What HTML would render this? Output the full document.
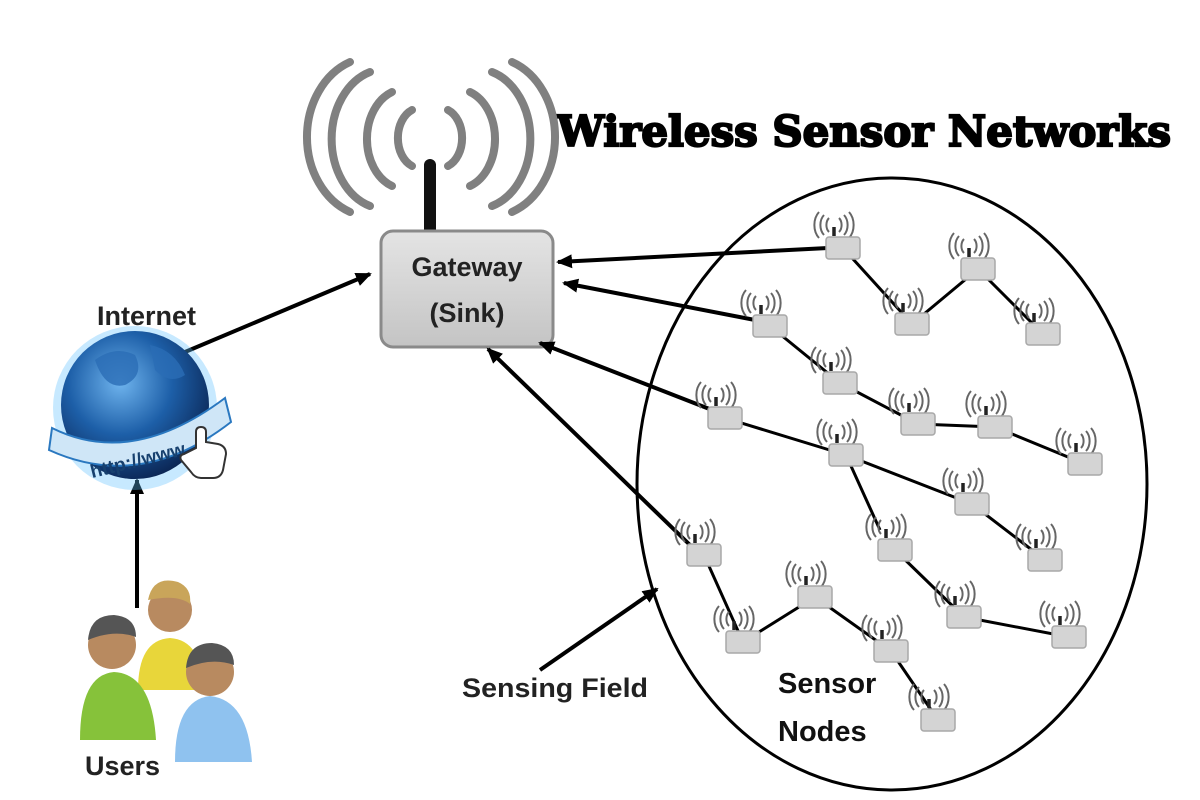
<!DOCTYPE html>
<html><head><meta charset="utf-8"><style>
html,body{margin:0;padding:0;background:#fff;width:1200px;height:800px;overflow:hidden}
svg{display:block}
text{font-family:"Liberation Sans",sans-serif}
</style></head><body>
<svg width="1200" height="800" viewBox="0 0 1200 800" xmlns="http://www.w3.org/2000/svg">
<defs>
<marker id="ah" markerWidth="16" markerHeight="14" refX="14" refY="7" orient="auto" markerUnits="userSpaceOnUse" viewBox="0 0 16 14">
<path d="M0,0 L16,7 L0,14 Z" fill="#000"/></marker>
<linearGradient id="gw" x1="0" y1="0" x2="0" y2="1"><stop offset="0" stop-color="#e4e4e4"/><stop offset="1" stop-color="#c4c4c4"/></linearGradient>
<radialGradient id="glb" cx="0.4" cy="0.35" r="0.7"><stop offset="0" stop-color="#6fb4ee"/><stop offset="0.5" stop-color="#1d5fa8"/><stop offset="1" stop-color="#0a2350"/></radialGradient>
<g id="s">
<path d="M-9,-12 v-9" stroke="#222" stroke-width="3.5"/>
<g fill="none" stroke="#666" stroke-width="2">
<path d="M-14,-30 a7,9 0 0 0 0,14"/><path d="M-19,-33 a10,13 0 0 0 0,20"/><path d="M-24,-36 a13,17 0 0 0 0,26"/>
<path d="M-4,-30 a7,9 0 0 1 0,14"/><path d="M1,-33 a10,13 0 0 1 0,20"/><path d="M6,-36 a13,17 0 0 1 0,26"/>
</g>
<rect x="-17" y="-11" width="34" height="22" rx="3" fill="#d4d4d4" stroke="#a8a8a8" stroke-width="1.5"/>
</g>
</defs>

<!-- title -->
<text x="557" y="146" font-weight="bold" font-size="42" textLength="614" lengthAdjust="spacingAndGlyphs" stroke="#000" stroke-width="2.2" style="font-family:'DejaVu Serif','Liberation Serif',serif">Wireless Sensor Networks</text>

<!-- gateway antenna -->
<path d="M430,232 V165" stroke="#111" stroke-width="12" stroke-linecap="round"/>
<g fill="none" stroke="#808080" stroke-width="8" stroke-linecap="round">
<path d="M412,110 a22,30 0 0 0 0,56"/><path d="M392,92 a38,50 0 0 0 0,94"/><path d="M370,72 a54,70 0 0 0 0,134"/><path d="M350,62 a66,80 0 0 0 0,150"/>
<path d="M448,110 a22,30 0 0 1 0,56"/><path d="M470,92 a38,50 0 0 1 0,94"/><path d="M492,72 a54,70 0 0 1 0,134"/><path d="M512,62 a66,80 0 0 1 0,150"/>
</g>
<rect x="381" y="231" width="172" height="116" rx="12" fill="url(#gw)" stroke="#8a8a8a" stroke-width="3"/>
<text x="467" y="276" font-size="27" font-weight="bold" text-anchor="middle" fill="#222">Gateway</text>
<text x="467" y="322" font-size="27" font-weight="bold" text-anchor="middle" fill="#222">(Sink)</text>

<!-- ellipse -->
<ellipse cx="892" cy="484" rx="255" ry="306" fill="none" stroke="#000" stroke-width="3"/>

<!-- edges -->
<g stroke="#000" stroke-width="3">
<line x1="843" y1="248" x2="912" y2="324"/><line x1="912" y1="324" x2="978" y2="269"/><line x1="978" y1="269" x2="1043" y2="334"/>
<line x1="770" y1="326" x2="840" y2="383"/><line x1="840" y1="383" x2="918" y2="424"/><line x1="918" y1="424" x2="995" y2="427"/><line x1="995" y1="427" x2="1085" y2="464"/>
<line x1="725" y1="418" x2="846" y2="455"/><line x1="846" y1="455" x2="972" y2="504"/><line x1="846" y1="455" x2="880" y2="530"/>
<line x1="972" y1="504" x2="1045" y2="560"/><line x1="895" y1="550" x2="964" y2="617"/><line x1="964" y1="617" x2="1069" y2="637"/>
<line x1="704" y1="555" x2="743" y2="642"/><line x1="743" y1="642" x2="815" y2="597"/><line x1="815" y1="597" x2="891" y2="651"/><line x1="891" y1="651" x2="938" y2="720"/>
</g>
<!-- arrows -->
<g stroke="#000" stroke-width="4" marker-end="url(#ah)">
<line x1="828" y1="248" x2="558" y2="262"/>
<line x1="755" y1="320" x2="564" y2="283"/>
<line x1="712" y1="410" x2="540" y2="343"/>
<line x1="690" y1="545" x2="488" y2="349"/>
<line x1="185" y1="352" x2="370" y2="274"/>
<line x1="137" y1="608" x2="137" y2="480"/>
<line x1="540" y1="670" x2="657" y2="589"/>
</g>

<!-- sensors -->
<use href="#s" x="843" y="248"/><use href="#s" x="912" y="324"/><use href="#s" x="978" y="269"/><use href="#s" x="1043" y="334"/>
<use href="#s" x="770" y="326"/><use href="#s" x="840" y="383"/><use href="#s" x="725" y="418"/><use href="#s" x="918" y="424"/>
<use href="#s" x="995" y="427"/><use href="#s" x="1085" y="464"/><use href="#s" x="846" y="455"/><use href="#s" x="972" y="504"/>
<use href="#s" x="1045" y="560"/><use href="#s" x="895" y="550"/><use href="#s" x="704" y="555"/><use href="#s" x="743" y="642"/>
<use href="#s" x="815" y="597"/><use href="#s" x="964" y="617"/><use href="#s" x="1069" y="637"/><use href="#s" x="891" y="651"/>
<use href="#s" x="938" y="720"/>

<!-- labels -->
<text x="462" y="697" font-size="27" font-weight="bold" fill="#222" textLength="186" lengthAdjust="spacingAndGlyphs">Sensing Field</text>
<text x="778" y="693" font-size="29" font-weight="bold" fill="#111">Sensor</text>
<text x="778" y="741" font-size="29" font-weight="bold" fill="#111">Nodes</text>
<text x="97" y="325" font-size="27" font-weight="bold" fill="#222">Internet</text>
<text x="85" y="775" font-size="27" font-weight="bold" fill="#222">Users</text>

<!-- globe -->
<circle cx="135" cy="408" r="82" fill="#5fc0ff" opacity="0.35"/>
<circle cx="135" cy="405" r="74" fill="url(#glb)"/>
<path d="M95,360 q20,-15 40,-5 q10,20 -10,30 q-20,5 -30,-25 M150,345 q25,5 35,30 q-15,10 -30,-5 z" fill="#2a6db5" opacity="0.8"/>
<path d="M52,428 q80,40 173,-30 l6,24 q-90,70 -182,28 z" fill="#cfe6f7" stroke="#2a78c0" stroke-width="2"/>
<text x="140" y="466" font-size="19" font-weight="bold" fill="#17406e" text-anchor="middle" transform="rotate(-14 140 460)">http://www.</text>
<path d="M196,448 l0,-16 q0,-5 5,-5 q5,0 5,5 v10 l12,2 q8,2 8,10 l-3,16 q-2,8 -10,8 h-12 q-6,0 -10,-6 l-10,-12 q-2,-5 3,-6 z" fill="#fff" stroke="#333" stroke-width="2"/>

<!-- users -->
<g>
<circle cx="170" cy="610" r="22" fill="#b88a60"/><path d="M148,600 q5,-25 30,-18 q14,6 12,22 q-12,-10 -42,-4z" fill="#c9a55a"/>
<path d="M138,690 q0,-50 32,-52 q32,2 34,52 z" fill="#e8d63a"/>
<circle cx="112" cy="645" r="24" fill="#b88a60"/><path d="M88,640 q2,-25 26,-25 q22,2 22,22 q-22,-8 -48,3z" fill="#555"/>
<path d="M80,740 q0,-65 34,-68 q38,2 42,68 z" fill="#86c23a"/>
<circle cx="210" cy="672" r="24" fill="#b88a60"/><path d="M186,668 q2,-25 26,-25 q22,2 22,22 q-22,-8 -48,3z" fill="#555"/>
<path d="M175,762 q0,-62 35,-66 q38,4 42,66 z" fill="#8fc2ef"/>
</g>
</svg>
</body></html>
